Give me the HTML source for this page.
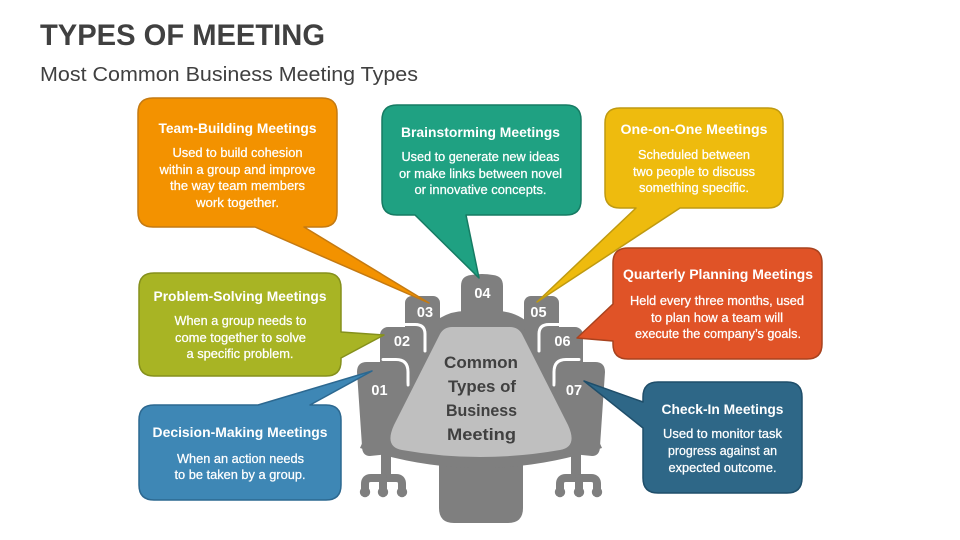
<!DOCTYPE html>
<html>
<head>
<meta charset="utf-8">
<style>
  html,body{margin:0;padding:0;background:#ffffff;}
  body{width:960px;height:540px;overflow:hidden;}
  svg{display:block;}
  text{font-family:"Liberation Sans",sans-serif;}
  .t{font-weight:bold;font-size:13.5px;fill:#ffffff;text-anchor:middle;}
  .b{font-size:12.8px;fill:#ffffff;stroke:#ffffff;stroke-width:0.25;text-anchor:middle;}
  .n{font-weight:bold;font-size:14.5px;fill:#ffffff;text-anchor:middle;}
  .c{font-weight:bold;font-size:17px;fill:#404040;text-anchor:middle;}
</style>
</head>
<body>
<svg width="960" height="540" viewBox="0 0 960 540" xmlns="http://www.w3.org/2000/svg">
  <!-- Title -->
  <text x="40" y="45" font-size="30" font-weight="bold" fill="#404040" textLength="285" lengthAdjust="spacingAndGlyphs">TYPES OF MEETING</text>
  <text x="40" y="81" font-size="20" fill="#404040" textLength="378" lengthAdjust="spacingAndGlyphs">Most Common Business Meeting Types</text>

  <!-- ===== Table & chairs ===== -->
  <g fill="#7f7f7f">
    <path d="M439 455 L523 455 L523 508 Q523 523 508 523 L454 523 Q439 523 439 508 Z"/>
    <path d="M360 448 L395 370 L415 335 L440 318 Q452 311 465 311 L497 311 Q510 311 522 318 L547 335 L567 370 L602 448 Q480 488 360 448 Z"/>
    <path d="M461 322 L461 286 Q461 276 471 275 Q482 273 493 275 Q503 276 503 286 L503 322 Z"/>
    <rect x="405" y="296" width="35" height="40" rx="7"/>
    <rect x="524" y="296" width="35" height="40" rx="7"/>
  </g>
  <g fill="none" stroke="#ffffff" stroke-width="3" stroke-linecap="round">
    <path d="M404 324.5 L415 324.5 Q425 324.5 425 334 L425 351"/>
    <path d="M560 324.5 L549 324.5 Q539 324.5 539 334 L539 351"/>
  </g>
  <g fill="#7f7f7f">
    <rect x="380" y="327" width="42" height="50" rx="8"/>
    <rect x="541" y="327" width="42" height="50" rx="8"/>
  </g>
  <g fill="none" stroke="#ffffff" stroke-width="3" stroke-linecap="round">
    <path d="M383 359.5 L396 359.5 Q408 359.5 408 372 L408 385"/>
    <path d="M579 359.5 L566 359.5 Q554 359.5 554 372 L554 385"/>
  </g>
  <g fill="#7f7f7f">
    <path d="M367 362 L396 362 Q406 362 406 372 L410 452 L370 456 Q362 456 362 446 L357 372 Q357 362 367 362 Z"/>
    <path d="M595 362 L566 362 Q556 362 556 372 L552 452 L592 456 Q600 456 600 446 L605 372 Q605 362 595 362 Z"/>
    <rect x="381" y="446" width="10" height="34"/>
    <rect x="571" y="446" width="10" height="34"/>
    <circle cx="365" cy="492" r="5.2"/>
    <circle cx="383" cy="492" r="5.2"/>
    <circle cx="402" cy="492" r="5.2"/>
    <circle cx="560" cy="492" r="5.2"/>
    <circle cx="579" cy="492" r="5.2"/>
    <circle cx="597" cy="492" r="5.2"/>
  </g>
  <g fill="none" stroke="#7f7f7f" stroke-width="8" stroke-linecap="round" stroke-linejoin="round">
    <path d="M365 491 L365 484 Q365 478 371 478 L396 478 Q402 478 402 484 L402 491"/>
    <path d="M383 478 L383 491"/>
    <path d="M560 491 L560 484 Q560 478 566 478 L591 478 Q597 478 597 484 L597 491"/>
    <path d="M579 478 L579 491"/>
  </g>
  <path fill="#bfbfbf" d="M452 327 L510 327 Q518 327 522 334 L568 425 Q578 447 560 450 Q480 464 402 450 Q384 447 394 425 L440 334 Q444 327 452 327 Z"/>

  <text class="c" x="481" y="368" textLength="74" lengthAdjust="spacingAndGlyphs">Common</text>
  <text class="c" x="482" y="392" textLength="68" lengthAdjust="spacingAndGlyphs">Types of</text>
  <text class="c" x="481.5" y="416" textLength="71" lengthAdjust="spacingAndGlyphs">Business</text>
  <text class="c" x="481.5" y="440" textLength="69" lengthAdjust="spacingAndGlyphs">Meeting</text>

  <text class="n" x="482.5" y="298">04</text>
  <text class="n" x="425" y="317">03</text>
  <text class="n" x="538.5" y="317">05</text>
  <text class="n" x="402" y="346">02</text>
  <text class="n" x="562.5" y="346">06</text>
  <text class="n" x="379.5" y="395">01</text>
  <text class="n" x="574" y="395">07</text>

  <!-- ===== Callouts ===== -->
  <path fill="#f39200" stroke="#c47a12" stroke-width="1.5" stroke-linejoin="round"
        d="M153 98 L322 98 Q337 98 337 113 L337 212 Q337 227 322 227 L304 227 L429 303 L255 227 L153 227 Q138 227 138 212 L138 113 Q138 98 153 98 Z"/>
  <text class="t" x="237.5" y="133" textLength="158" lengthAdjust="spacingAndGlyphs">Team-Building Meetings</text>
  <text class="b" x="237.5" y="157" textLength="130" lengthAdjust="spacingAndGlyphs">Used to build cohesion</text>
  <text class="b" x="237.5" y="174" textLength="156" lengthAdjust="spacingAndGlyphs">within a group and improve</text>
  <text class="b" x="237.5" y="190" textLength="135" lengthAdjust="spacingAndGlyphs">the way team members</text>
  <text class="b" x="237.5" y="207" textLength="83" lengthAdjust="spacingAndGlyphs">work together.</text>

  <path fill="#1fa182" stroke="#167b63" stroke-width="1.5" stroke-linejoin="round"
        d="M397 105 L566 105 Q581 105 581 120 L581 200 Q581 215 566 215 L466 215 L479 278 L415 215 L397 215 Q382 215 382 200 L382 120 Q382 105 397 105 Z"/>
  <text class="t" x="480.5" y="137" textLength="159" lengthAdjust="spacingAndGlyphs">Brainstorming Meetings</text>
  <text class="b" x="480.5" y="161" textLength="158" lengthAdjust="spacingAndGlyphs">Used to generate new ideas</text>
  <text class="b" x="480.5" y="178" textLength="163" lengthAdjust="spacingAndGlyphs">or make links between novel</text>
  <text class="b" x="480.5" y="194" textLength="132" lengthAdjust="spacingAndGlyphs">or innovative concepts.</text>

  <path fill="#eebb0e" stroke="#bf9a10" stroke-width="1.5" stroke-linejoin="round"
        d="M620 108 L768 108 Q783 108 783 123 L783 193 Q783 208 768 208 L680 208 L537 302 L636 208 L620 208 Q605 208 605 193 L605 123 Q605 108 620 108 Z"/>
  <text class="t" x="694" y="134" textLength="147" lengthAdjust="spacingAndGlyphs">One-on-One Meetings</text>
  <text class="b" x="694" y="159" textLength="112" lengthAdjust="spacingAndGlyphs">Scheduled between</text>
  <text class="b" x="694" y="176" textLength="122" lengthAdjust="spacingAndGlyphs">two people to discuss</text>
  <text class="b" x="694" y="192" textLength="110" lengthAdjust="spacingAndGlyphs">something specific.</text>

  <path fill="#e05327" stroke="#a8421e" stroke-width="1.5" stroke-linejoin="round"
        d="M628 248 L807 248 Q822 248 822 263 L822 344 Q822 359 807 359 L628 359 Q613 359 613 344 L613 341 L577 338 L613 304 L613 263 Q613 248 628 248 Z"/>
  <text class="t" x="718" y="279" textLength="190" lengthAdjust="spacingAndGlyphs">Quarterly Planning Meetings</text>
  <text class="b" x="717" y="305" textLength="174" lengthAdjust="spacingAndGlyphs">Held every three months, used</text>
  <text class="b" x="717" y="322" textLength="132" lengthAdjust="spacingAndGlyphs">to plan how a team will</text>
  <text class="b" x="718" y="338" textLength="166" lengthAdjust="spacingAndGlyphs">execute the company’s goals.</text>

  <path fill="#2e6787" stroke="#1f4e6a" stroke-width="1.5" stroke-linejoin="round"
        d="M658 382 L787 382 Q802 382 802 397 L802 478 Q802 493 787 493 L658 493 Q643 493 643 478 L643 428 L584 381 L643 402 L643 397 Q643 382 658 382 Z"/>
  <text class="t" x="722.5" y="414" textLength="122" lengthAdjust="spacingAndGlyphs">Check-In Meetings</text>
  <text class="b" x="722.5" y="438" textLength="119" lengthAdjust="spacingAndGlyphs">Used to monitor task</text>
  <text class="b" x="722.5" y="455" textLength="109" lengthAdjust="spacingAndGlyphs">progress against an</text>
  <text class="b" x="722.5" y="472" textLength="108" lengthAdjust="spacingAndGlyphs">expected outcome.</text>

  <path fill="#a8b424" stroke="#85901c" stroke-width="1.5" stroke-linejoin="round"
        d="M154 273 L326 273 Q341 273 341 288 L341 332 L384 335 L341 358 L341 361 Q341 376 326 376 L154 376 Q139 376 139 361 L139 288 Q139 273 154 273 Z"/>
  <text class="t" x="240" y="301" textLength="173" lengthAdjust="spacingAndGlyphs">Problem-Solving Meetings</text>
  <text class="b" x="240.5" y="325" textLength="132" lengthAdjust="spacingAndGlyphs">When a group needs to</text>
  <text class="b" x="240.5" y="342" textLength="131" lengthAdjust="spacingAndGlyphs">come together to solve</text>
  <text class="b" x="240" y="358" textLength="107" lengthAdjust="spacingAndGlyphs">a specific problem.</text>

  <path fill="#3e87b5" stroke="#2c6890" stroke-width="1.5" stroke-linejoin="round"
        d="M154 405 L258 405 L372 371 L310 405 L326 405 Q341 405 341 420 L341 485 Q341 500 326 500 L154 500 Q139 500 139 485 L139 420 Q139 405 154 405 Z"/>
  <text class="t" x="240" y="437" textLength="175" lengthAdjust="spacingAndGlyphs">Decision-Making Meetings</text>
  <text class="b" x="240.5" y="463" textLength="127" lengthAdjust="spacingAndGlyphs">When an action needs</text>
  <text class="b" x="240" y="479" textLength="131" lengthAdjust="spacingAndGlyphs">to be taken by a group.</text>
</svg>
</body>
</html>
